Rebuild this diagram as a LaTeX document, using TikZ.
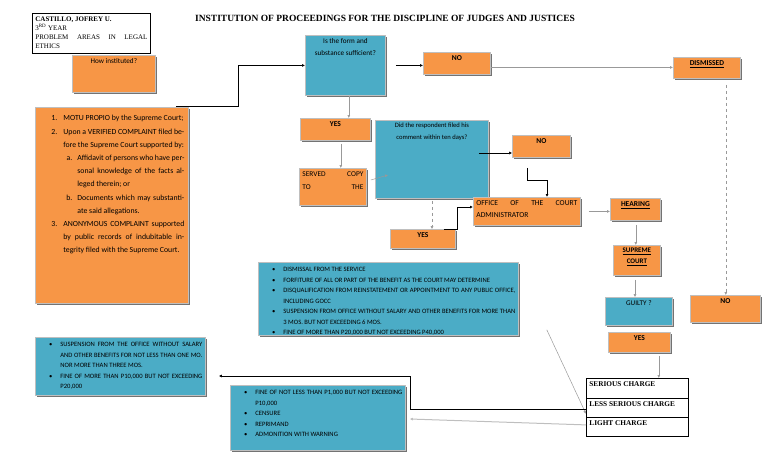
\documentclass[tikz,border=0pt]{standalone}
\usepackage{fontspec}
\setmainfont{Carlito}
\newfontfamily\serf{Liberation Serif}
\usepackage{enumitem}
\usetikzlibrary{shadows,arrows.meta}
\definecolor{org}{HTML}{F79646}
\definecolor{blu}{HTML}{4BACC6}
\newcommand\tbx[3]{\parbox[c][#2pt][t]{#1pt}{#3}}
\tikzset{
 box/.style={rectangle,anchor=north west,inner sep=3pt,draw=white!75!black,line width=0.8pt,
   drop shadow={shadow xshift=1.2pt,shadow yshift=-1.2pt,fill=black!55,opacity=1}},
 ob/.style={box,fill=org},
 bb/.style={box,fill=blu},
 arr/.style={-{Latex[length=3pt,width=3pt]},line width=0.5pt},
 blk/.style={arr,line width=0.9pt},
 gry/.style={arr,draw=black!40,line width=0.5pt},
 sm/.style={font=\fontsize{7.2}{12}\selectfont},
 bf/.style={font=\bfseries\fontsize{7.5}{10}\selectfont},
 lst/.style={font=\fontsize{6.6}{10.5}\selectfont},
}
\begin{document}
\begin{tikzpicture}[x=1pt,y=-1pt]
\useasboundingbox (0,0) rectangle (768,466);
% header
\node[draw,line width=0.8pt,anchor=north west,inner sep=3pt,align=left,font=\serf\fontsize{7}{9}\selectfont] (hdr) at (32,13)
 {\tbx{112}{34}{\textbf{CASTILLO, JOFREY U.}\\3\textsuperscript{RD} YEAR\\PROBLEM AREAS IN LEGAL ETHICS}};
\node[font=\serf\bfseries\fontsize{9.5}{11}\selectfont] (title) at (385,18) {INSTITUTION OF PROCEEDINGS FOR THE DISCIPLINE OF JUDGES AND JUSTICES};
% left orange
\node[ob,sm] (how) at (72,55) {\tbx{77}{31}{\centering How instituted?}};
\node[ob,font=\fontsize{7.8}{13.2}\selectfont,inner sep=4pt] (inst) at (35,107) {\tbx{145}{188}{%
\begin{enumerate}[leftmargin=24pt,labelsep=6pt,itemsep=0pt,parsep=0pt,topsep=2pt,label=\arabic*.]
\item MOTU PROPIO by the Supreme Court;
\item Upon a VERIFIED COMPLAINT filed before the Supreme Court supported by:
 \begin{enumerate}[leftmargin=14pt,labelsep=5pt,itemsep=0pt,parsep=0pt,topsep=0pt,label=\alph*.]
 \item Affidavit of persons who have personal knowledge of the facts alleged therein; or
 \item Documents which may substantiate said allegations.
 \end{enumerate}
\item ANONYMOUS COMPLAINT supported by public records of indubitable integrity filed with the Supreme Court.
\end{enumerate}}};
% flow
\node[bb,sm] (q1) at (305,35) {\tbx{74}{54}{\centering Is the form and\\ substance sufficient?}};
\node[ob,bf] (no1) at (423,52) {\tbx{61}{16}{\centering NO}};
\node[ob,bf] (dis) at (673,57) {\tbx{61}{15}{\centering\underline{DISMISSED}}};
\node[ob,bf] (yes1) at (300,118) {\tbx{64}{16}{\centering YES}};
\node[ob,font=\fontsize{7.4}{13}\selectfont] (srv) at (299,168) {\tbx{61}{31}{SERVED\hfill COPY\\TO\hfill THE}};
\node[bb,font=\fontsize{6.6}{12}\selectfont] (q2) at (375,120) {\tbx{107}{72}{\centering Did the respondent filed his\\ comment within ten days?}};
\node[ob,bf] (no2) at (512,135) {\tbx{52}{16}{\centering NO}};
\node[ob,font=\fontsize{7.6}{12}\selectfont] (oca) at (473,197) {\tbx{101}{22}{OFFICE\hfill OF\hfill THE\hfill COURT\\ADMINISTRATOR}};
\node[ob,bf] (yes2) at (390,229) {\tbx{59}{13}{\centering YES}};
\node[ob,bf] (hear) at (610,198) {\tbx{44}{16}{\centering\underline{HEARING}}};
\node[ob,font=\bfseries\fontsize{7}{11}\selectfont] (sc) at (613,245) {\tbx{41}{24}{\centering\underline{SUPREME}\\\underline{COURT}}};
\node[bb,sm] (gty) at (605,297) {\tbx{61}{22}{\centering GUILTY ?}};
\node[ob,bf] (no3) at (690,295) {\tbx{64}{21}{\centering NO}};
\node[ob,bf] (yes3) at (608,332) {\tbx{56}{14}{\centering YES}};
% charges table
\node[draw,line width=0.8pt,anchor=north west,minimum width=102pt,minimum height=20pt,inner sep=2pt,font=\serf\bfseries\fontsize{7.3}{9}\selectfont] (ser) at (586,378) {\tbx{96}{14}{SERIOUS CHARGE}};
\node[draw,line width=0.8pt,anchor=north west,minimum width=102pt,minimum height=19pt,inner sep=2pt,font=\serf\bfseries\fontsize{7.3}{9}\selectfont] (les) at (586,398) {\tbx{96}{13}{LESS SERIOUS CHARGE}};
\node[draw,line width=0.8pt,anchor=north west,minimum width=102pt,minimum height=19pt,inner sep=2pt,font=\serf\bfseries\fontsize{7.3}{9}\selectfont] (lig) at (586,417) {\tbx{96}{13}{LIGHT CHARGE}};
% penalty lists
\node[bb,lst] (pser) at (258,262) {\tbx{254}{67}{%
\begin{itemize}[leftmargin=22pt,labelsep=8pt,itemsep=0pt,parsep=0pt,topsep=0pt,label=\textbullet]
\item DISMISSAL FROM THE SERVICE
\item FORFITURE OF ALL OR PART OF THE BENEFIT AS THE COURT MAY DETERMINE
\item DISQUALIFICATION FROM REINSTATEMENT OR APPOINTMENT TO ANY PUBLIC OFFICE, INCLUDING GOCC
\item SUSPENSION FROM OFFICE WITHOUT SALARY AND OTHER BENEFITS FOR MORE THAN 3 MOS. BUT NOT EXCEEDING 6 MOS.
\item FINE OF MORE THAN P20,000 BUT NOT EXCEEDING P40,000
\end{itemize}}};
\node[bb,lst] (pless) at (35,337) {\tbx{164}{52}{%
\begin{itemize}[leftmargin=22pt,labelsep=8pt,itemsep=0pt,parsep=0pt,topsep=0pt,label=\textbullet]
\item SUSPENSION FROM THE OFFICE WITHOUT SALARY AND OTHER BENEFITS FOR NOT LESS THAN ONE MO. NOR MORE THAN THREE MOS.
\item FINE OF MORE THAN P10,000 BUT NOT EXCEEDING P20,000
\end{itemize}}};
\node[bb,lst] (plig) at (230,385) {\tbx{169}{59}{%
\begin{itemize}[leftmargin=22pt,labelsep=8pt,itemsep=0pt,parsep=0pt,topsep=0pt,label=\textbullet]
\item FINE OF NOT LESS THAN P1,000 BUT NOT EXCEEDING P10,000
\item CENSURE
\item REPRIMAND
\item ADMONITION WITH WARNING
\end{itemize}}};
% connectors
\draw[blk] (inst.north east) ++(-13,-1) -- ++(63,0) |- (q1.west);
\draw[arr] (q1.east) ++(10,0) coordinate (a1) -- (a1 -| no1.west);
\draw[gry] ([yshift=-4pt]no1.east) -- ([yshift=-4pt]no1.east -| dis.west);
\draw[gry,dashed] ([xshift=-15pt,yshift=-6pt]dis.south east) -- ([xshift=-15pt]dis.south east |- no3.north);
\draw[gry] ([xshift=-37pt]q1.south east) coordinate (b1) -- (b1 |- yes1.north);
\draw[gry] ([xshift=-30pt,yshift=-3pt]yes1.south east) coordinate (b2) -- (b2 |- srv.north);
\draw[gry] ([xshift=4pt,yshift=-12pt]srv.north east) -- ([xshift=13pt,yshift=-55pt]q2.north west);
\draw[arr] ([xshift=-10pt,yshift=-33pt]q2.north east) coordinate (c1) -- (c1 -| no2.west);
\draw[blk] ([xshift=15pt,yshift=-10pt]no2.south west) -- ++(0,13) -| (oca.north east -| 547,0);
\draw[gry,dashed] ([xshift=57pt,yshift=-2pt]q2.south west) coordinate (c2) -- (c2 |- yes2.north);
\draw[blk] ([xshift=-12pt]yes2.north east) -- ++(14,0) |- ([yshift=-10pt]oca.north west);
\draw[gry] ([xshift=8pt]oca.east) -- (hear.west |- oca.east);
\draw[gry] ([xshift=-25pt,yshift=-4pt]hear.south east) coordinate (d1) -- (d1 |- sc.north);
\draw[gry] ([xshift=22pt,yshift=-4pt]sc.south west) coordinate (d2) -- (d2 |- gty.north);
\draw[gry] ([xshift=-12pt,yshift=-3pt]yes3.south east) coordinate (d3) -- (d3 |- ser.north);
\draw[gry] ([xshift=28pt,yshift=6pt]pser.south east) -- ([yshift=-15pt]ser.south west);
\draw[blk] ([yshift=-2pt]les.west) -- ++(-176,0) |- ([xshift=13pt]pless.east |- 0,376) ;
\draw[gry,draw=black!25,line width=1pt] ([yshift=2pt]lig.west) -- ([xshift=4pt]plig.east |- 0,419);
\end{tikzpicture}
\end{document}
